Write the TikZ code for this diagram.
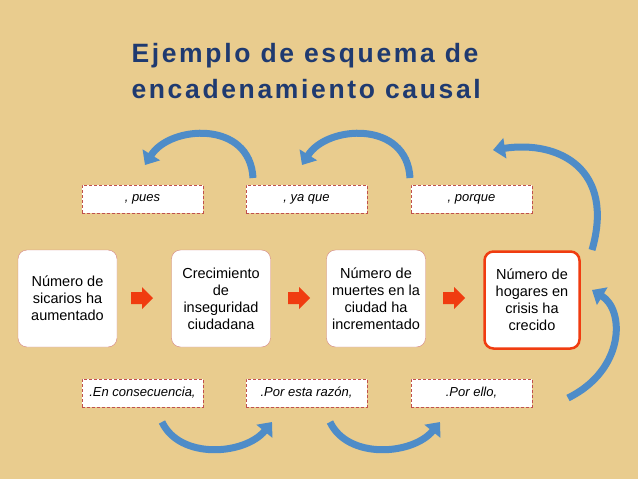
\documentclass[tikz,border=0pt]{standalone}
\usepackage{fontspec}
\setmainfont{Liberation Sans}
\usetikzlibrary{arrows.meta}
\definecolor{bg}{HTML}{E9CC8E}
\definecolor{tblue}{HTML}{1F3A70}
\definecolor{ablue}{HTML}{4E8CC8}
\definecolor{bred}{HTML}{C0504D}
\definecolor{ored}{HTML}{F03C10}
\tikzset{
 mainbox/.style={draw=bred!70,fill=white,rounded corners=9pt,minimum width=99pt,minimum height=97pt,align=center,font=\fontsize{14.5}{17}\selectfont,inner sep=1pt},
 linkbox/.style={draw=bred,densely dashed,fill=white,minimum width=121pt,minimum height=28pt,font=\itshape\fontsize{13}{15}\selectfont},
 redarrow/.style={fill=ored},
 bluearrow/.style={draw=ablue,line width=7pt,-{Triangle[width=20pt,length=12pt]}}
}
\begin{document}
\begin{tikzpicture}[x=1pt,y=-1pt]
\fill[bg] (0,0) rectangle (638,479);
\useasboundingbox (0,0) rectangle (638,479);
\node[font=\bfseries\fontsize{26.5}{36}\selectfont,text=tblue,align=left,anchor=west] (title) at (128,71)
 {\addfontfeatures{LetterSpace=10}Ejemplo de esquema de\\\addfontfeatures{LetterSpace=10}encadenamiento causal};
\node[mainbox] (b1) at (67.5,298.5) {Número de\\sicarios ha\\aumentado};
\node[mainbox] (b2) at (221,298.5) {Crecimiento\\de\\inseguridad\\ciudadana};
\node[mainbox] (b3) at (376,298.5) {Número de\\muertes en la\\ciudad ha\\incrementado};
\node[mainbox,draw=ored,line width=2.5pt,minimum width=95pt] (b4) at (532,300) {Número de\\hogares en\\crisis ha\\crecido};
\foreach \x in {142,299,454}{
 \fill[redarrow,shift={(\x,298)}] (-11,-6) -- (0,-6) -- (0,-11) -- (11,0) -- (0,11) -- (0,6) -- (-11,6) -- cycle;
}
\node[linkbox] (t1) at (142.5,199) {, pues};
\node[linkbox] (t2) at (306.5,199) {, ya que};
\node[linkbox] (t3) at (471.5,199) {, porque};
\node[linkbox] (l1) at (142.5,393) {.En consecuencia,};
\node[linkbox] (l2) at (306.5,393) {.Por esta razón,};
\node[linkbox] (l3) at (471.5,393) {.Por ello,};
\coordinate (a1s) at (253,178); \coordinate (a1e) at (145,165);
\coordinate (a2s) at (410,178); \coordinate (a2e) at (302,165);
\coordinate (a3s) at (592,250); \coordinate (a3e) at (493,150);
\coordinate (a4s) at (568,398); \coordinate (a4e) at (592,290);
\coordinate (a5s) at (162,422); \coordinate (a5e) at (272,422);
\coordinate (a6s) at (330,422); \coordinate (a6e) at (440,422);
\draw[bluearrow] (a1s) .. controls (250,120) and (170,125) .. (a1e);
\draw[bluearrow] (a2s) .. controls (407,120) and (327,125) .. (a2e);
\draw[bluearrow] (a3s) .. controls (615,170) and (560,140) .. (a3e);
\draw[bluearrow] (a4s) .. controls (625,370) and (625,310) .. (a4e);
\draw[bluearrow] (a5s) .. controls (180,460) and (245,455) .. (a5e);
\draw[bluearrow] (a6s) .. controls (348,460) and (413,455) .. (a6e);
\end{tikzpicture}
\end{document}
